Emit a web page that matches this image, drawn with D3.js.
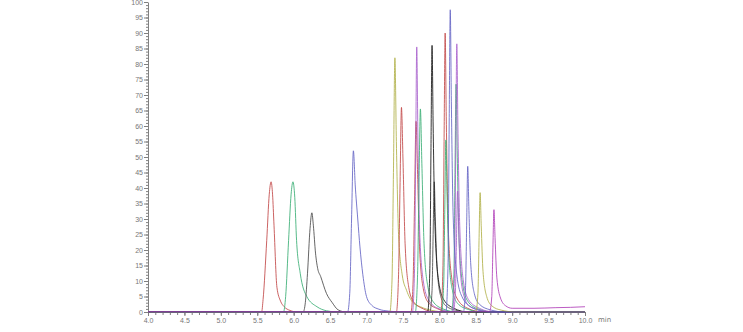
<!DOCTYPE html>
<html>
<head>
<meta charset="utf-8">
<script src="https://cdn.jsdelivr.net/npm/d3@7"></script>
<style>
  body { margin: 0; background: #fff; }
  svg { display: block; font-family: "DejaVu Sans", sans-serif; }
  .tick text { fill: #777; font-size: 7px; }
  .domain, .tick line { stroke: #808080; }
</style>
</head>
<body>
<svg id="chart" width="743" height="332"></svg>
<script>
// axis ranges and tick labels
const xDomain = [4.0, 10.0];
const yDomain = [0, 100];
const xTickLabels = ['4.0', '4.5', '5.0', '5.5', '6.0', '6.5', '7.0', '7.5', '8.0', '8.5', '9.0', '9.5', '10.0'];
const yTickLabels = ['0', '5', '10', '15', '20', '25', '30', '35', '40', '45', '50', '55', '60', '65', '70', '75', '80', '85', '90', '95', '100'];
const xUnit = 'min';

// traces: [time (min), relative intensity (%)]
const red1 = [[4.0,0],[5.56,0],[5.58,4],[5.63,23],[5.665,38],[5.69,42],[5.71,38],[5.73,28],[5.77,8],[5.82,3.5],[5.87,1.7],[5.95,0.5],[6.05,0],[10.0,0]];
const green1 = [[4.0,0],[5.86,0],[5.89,5],[5.93,23],[5.965,38],[5.99,42],[6.015,37],[6.04,23],[6.09,12.5],[6.18,5],[6.32,1.7],[6.45,0.4],[6.6,0],[10.0,0]];
const grey1 = [[4.0,0],[6.13,0],[6.16,3],[6.19,12.5],[6.225,27],[6.25,32],[6.27,28],[6.30,19],[6.33,14],[6.37,11.5],[6.45,6],[6.53,3],[6.61,0.7],[6.72,0],[10.0,0]];
const blue1 = [[4.0,0],[6.74,0],[6.77,6],[6.795,30],[6.82,52],[6.845,41],[6.88,30],[6.91,21],[6.95,12],[7.0,5],[7.07,2.2],[7.17,0.9],[7.3,0.3],[7.5,0],[10.0,0]];
const olive1 = [[4.0,0],[7.32,0],[7.35,10],[7.37,45],[7.39,82],[7.41,55],[7.44,25],[7.49,12],[7.55,7],[7.64,3],[7.74,1.7],[7.9,0.5],[8.1,0],[10.0,0]];
const red2 = [[4.0,0],[7.41,0],[7.44,12],[7.46,40],[7.48,66],[7.50,50],[7.53,22],[7.58,8],[7.64,3.5],[7.78,1],[7.95,0],[10.0,0]];
const purple1 = [[4.0,0],[7.63,0],[7.66,14],[7.675,50],[7.69,85.5],[7.705,58],[7.73,26],[7.78,10],[7.85,4],[7.98,1.2],[8.2,0],[10.0,0]];
const red3 = [[4.0,0],[7.61,0],[7.64,10],[7.66,36],[7.68,61.5],[7.70,46],[7.73,20],[7.78,7.5],[7.85,3],[7.98,1],[8.15,0],[10.0,0]];
const green2 = [[4.0,0],[7.67,0],[7.70,11],[7.72,40],[7.74,65.5],[7.76,48],[7.79,22],[7.84,8.5],[7.91,3.5],[8.05,1],[8.25,0],[10.0,0]];
const black1 = [[4.0,0],[7.84,0],[7.87,14],[7.885,52],[7.90,86],[7.915,60],[7.94,28],[7.99,10],[8.06,4],[8.2,1.2],[8.4,0],[10.0,0]];
const grey2 = [[4.0,0],[7.87,0],[7.90,7],[7.915,25],[7.93,42],[7.945,30],[7.97,14],[8.02,5],[8.09,2],[8.22,0.6],[8.4,0],[10.0,0]];
const red4 = [[4.0,0],[8.02,0],[8.05,15],[8.065,55],[8.08,90],[8.095,63],[8.12,29],[8.17,11],[8.24,4.5],[8.38,1.3],[8.6,0],[10.0,0]];
const green3 = [[4.0,0],[8.03,0],[8.06,9],[8.075,33],[8.09,55.5],[8.105,39],[8.13,18],[8.18,7],[8.25,2.8],[8.4,0.8],[8.6,0],[10.0,0]];
const blue2 = [[4.0,0],[8.09,0],[8.12,16],[8.135,60],[8.15,97.5],[8.165,68],[8.19,31],[8.24,12],[8.31,5],[8.45,1.4],[8.7,0],[10.0,0]];
const green4 = [[4.0,0],[8.17,0],[8.20,12],[8.215,45],[8.23,73.5],[8.245,52],[8.27,24],[8.32,9],[8.39,3.5],[8.53,1],[8.75,0],[10.0,0]];
const purple2 = [[4.0,0],[8.18,0],[8.21,14],[8.225,52],[8.24,86.5],[8.255,60],[8.28,28],[8.33,10],[8.40,4],[8.55,1.2],[8.75,0],[10.0,0]];
const purple3 = [[4.0,0],[8.19,0],[8.22,6],[8.235,23],[8.25,39],[8.265,27],[8.29,12.5],[8.34,5],[8.41,2],[8.55,0.6],[8.75,0],[10.0,0]];
const blue3 = [[4.0,0],[8.33,0],[8.36,8],[8.375,28],[8.39,47],[8.405,34],[8.43,16],[8.48,6],[8.55,2.5],[8.7,0.7],[8.9,0],[10.0,0]];
const olive2 = [[4.0,0],[8.50,0],[8.53,6],[8.545,23],[8.56,38.5],[8.575,28],[8.60,13],[8.65,5],[8.72,2],[8.85,0.6],[9.05,0],[10.0,0]];
const magenta1 = [[4.0,0.15],[8.6,0.15],[8.69,0.2],[8.72,5],[8.735,20],[8.75,33],[8.765,24],[8.79,11],[8.84,4.5],[8.91,2],[9.0,1.2],[9.3,1.2],[9.6,1.4],[9.8,1.5],[10.0,1.7]];

const COLORS = {
    red: '#c24848', green: '#3aae74', black: '#151515', grey: '#4a4a4a',
    blue: '#6464c4', olive: '#b0b048', purple: '#a860cc', magenta: '#b040b8'
};

const traces = [
    [red1, 'red'], [green1, 'green'], [grey1, 'grey'], [blue1, 'blue'],
    [olive1, 'olive'], [red2, 'red'], [red3, 'red'], [purple1, 'purple'],
    [green2, 'green'], [grey2, 'grey'], [black1, 'black'], [red4, 'red'],
    [green3, 'green'], [green4, 'green'], [purple3, 'purple'], [purple2, 'purple'],
    [blue2, 'blue'], [blue3, 'blue'], [olive2, 'olive'], [magenta1, 'magenta']
];

const margin = { top: 2, right: 158, bottom: 20, left: 148 };
const svg = d3.select('#chart');
const width = +svg.attr('width') - margin.left - margin.right;
const height = +svg.attr('height') - margin.top - margin.bottom;
const g = svg.append('g').attr('transform', `translate(${margin.left},${margin.top})`);

const x = d3.scaleLinear().domain(xDomain).range([0, width]);
const y = d3.scaleLinear().domain(yDomain).range([height, 0]);

// minor ticks first, then labelled major ticks on top
g.append('g')
    .attr('transform', `translate(0,${height})`)
    .call(d3.axisBottom(x).tickValues(d3.range(40, 101).map(d => d / 10)).tickSize(3).tickFormat(''))
    .call(s => s.select('.domain').remove());
g.append('g')
    .attr('transform', `translate(0,${height})`)
    .call(d3.axisBottom(x).tickValues(xTickLabels.map(Number)).tickSize(4).tickSizeOuter(0).tickFormat((d, i) => xTickLabels[i]))
    .call(s => s.selectAll('text').attr('dy', '0.6em'));

g.append('g')
    .call(d3.axisLeft(y).tickValues(d3.range(0, 101)).tickSize(2).tickFormat(''))
    .call(s => s.select('.domain').remove());
g.append('g')
    .call(d3.axisLeft(y).tickValues(yTickLabels.map(Number)).tickSize(4).tickSizeOuter(0).tickFormat((d, i) => yTickLabels[i]))
    .call(s => s.selectAll('text').attr('x', -5).attr('dy', '0.35em'));

g.append('text')
    .attr('x', width + 13)
    .attr('y', height + 10)
    .attr('fill', '#777')
    .attr('font-size', 7)
    .text(xUnit);

const line = d3.line()
    .x(d => x(d[0]))
    .y(d => y(d[1]))
    .curve(d3.curveMonotoneX);

g.append('g')
    .selectAll('path')
    .data(traces)
    .enter()
    .append('path')
    .attr('d', d => line(d[0]))
    .attr('fill', 'none')
    .attr('stroke', d => COLORS[d[1]])
    .attr('stroke-width', 1)
    .attr('stroke-opacity', 0.85);

// dark zero line
g.append('line')
    .attr('x1', 0).attr('x2', width)
    .attr('y1', y(0)).attr('y2', y(0))
    .attr('stroke', '#40306a')
    .attr('stroke-width', 1.2)
    .attr('stroke-opacity', 0.8);
</script>
</body>
</html>
